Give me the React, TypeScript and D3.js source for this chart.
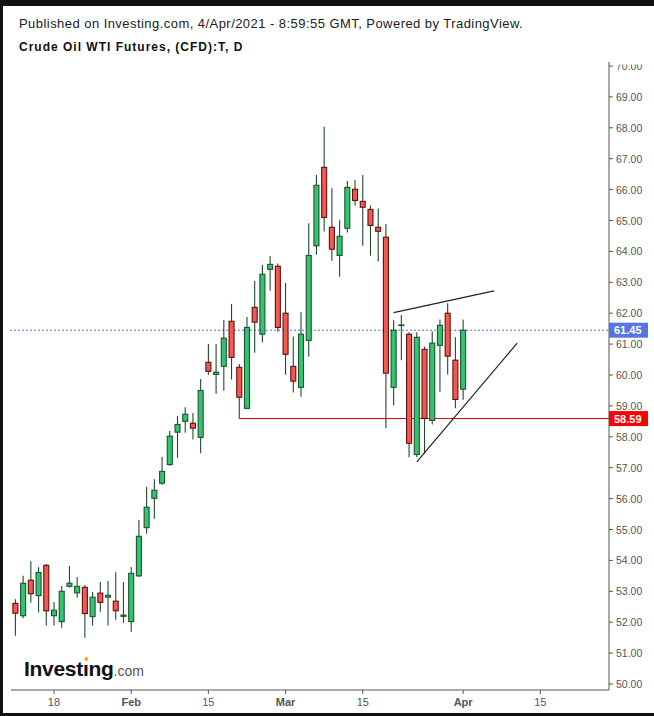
import React from "react";
import * as d3 from "d3";

// ---- data ----
const DATES = [
  "2021-01-11","2021-01-12","2021-01-13","2021-01-14","2021-01-15",
  "2021-01-18","2021-01-19","2021-01-20","2021-01-21","2021-01-22",
  "2021-01-25","2021-01-26","2021-01-27","2021-01-28","2021-01-29",
  "2021-02-01","2021-02-02","2021-02-03","2021-02-04","2021-02-05",
  "2021-02-08","2021-02-09","2021-02-10","2021-02-11","2021-02-12",
  "2021-02-15","2021-02-16","2021-02-17","2021-02-18","2021-02-19",
  "2021-02-22","2021-02-23","2021-02-24","2021-02-25","2021-02-26",
  "2021-03-01","2021-03-02","2021-03-03","2021-03-04","2021-03-05",
  "2021-03-08","2021-03-09","2021-03-10","2021-03-11","2021-03-12",
  "2021-03-15","2021-03-16","2021-03-17","2021-03-18","2021-03-19",
  "2021-03-22","2021-03-23","2021-03-24","2021-03-25","2021-03-26",
  "2021-03-29","2021-03-30","2021-03-31","2021-04-01",
];
const OPEN = [
  52.61,52.21,53.36,52.86,53.84, 52.21,52.02,53.16,52.95,53.13,
  52.18,52.94,52.81,52.68,52.19, 52.02,53.50,55.06,56.01,56.50,
  57.10,58.15,58.50,58.44,57.98, 60.41,60.02,60.28,61.74,60.25,
  58.92,62.19,61.32,63.42,63.52, 62.00,60.28,59.60,61.12,64.18,
  66.72,64.78,63.87,64.75,66.01, 65.62,65.36,64.78,64.46,59.60,
  61.60,61.32,57.43,60.83,58.53, 60.96,62.00,60.48,59.54,
];
const HIGH = [
  52.74,53.50,53.97,53.78,53.88, 52.65,53.17,53.82,53.46,53.20,
  52.98,53.30,53.33,53.62,53.30, 53.79,55.31,56.38,56.63,57.35,
  58.19,58.67,58.96,58.77,59.87, 61.00,61.00,61.78,62.30,60.36,
  61.88,63.04,63.56,63.85,63.61, 62.98,61.25,62.03,64.91,66.47,
  68.03,66.04,65.01,66.28,66.31, 66.47,65.49,65.39,64.89,61.77,
  61.94,61.38,61.38,60.92,61.41, 61.80,62.32,61.22,61.80,
];
const LOW = [
  51.56,52.13,52.63,52.31,51.89, 51.89,51.82,53.12,52.79,51.50,
  51.89,52.34,51.89,52.08,51.98, 51.69,53.46,54.86,55.35,56.45,
  57.06,57.32,58.13,57.91,57.47, 60.01,59.39,59.49,59.85,58.59,
  58.89,60.72,61.05,62.73,61.40, 60.01,59.43,59.30,60.59,63.89,
  64.64,63.70,63.18,64.61,65.48, 64.18,63.86,63.67,58.28,59.01,
  60.48,57.34,57.34,57.47,58.40, 59.46,60.02,58.92,59.20,
];
const CLOSE = [
  52.29,53.26,52.92,53.61,52.37, 52.39,53.00,53.26,53.16,52.28,
  52.81,52.64,52.87,52.37,52.23, 53.58,54.78,55.72,56.27,56.88,
  58.02,58.40,58.73,58.28,59.50, 60.12,60.09,61.19,60.57,59.28,
  61.54,61.71,63.26,63.58,61.54, 60.67,59.80,61.32,63.87,66.14,
  65.10,64.07,64.49,66.07,65.65, 65.43,64.84,64.65,60.06,61.45,
  61.62,57.79,61.22,58.60,61.03, 61.61,60.61,59.21,61.45,
];

const Y_TICKS = [50,51,52,53,54,55,56,57,58,59,60,61,62,63,64,65,66,67,68,69,70];
const X_TICK_DATES = ["2021-01-18","2021-02-01","2021-02-15","2021-03-01","2021-03-15","2021-04-01","2021-04-15"];
const X_TICK_LABELS = ["18","Feb","15","Mar","15","Apr","15"];
const X_TICK_MONTH = [false,true,false,true,false,true,false];

const LAST_PRICE = 61.45;
const SUPPORT_PRICE = 58.59;
const SUPPORT_FROM = "2021-02-19";
// trend lines: [bar index (fractional), price]
const UPPER_LINE: [number, number][] = [[49, 62.02], [62, 62.72]];
const LOWER_LINE: [number, number][] = [[52, 57.19], [65, 61.03]];

// ---- helpers ----
const parse = d3.timeParse("%Y-%m-%d");
const START = parse(DATES[0]) as Date;
function barIndex(s: string): number {
  const d = parse(s) as Date;
  const days = d3.timeDay.count(START, d);
  const weeks = Math.floor(days / 7);
  const rem = days % 7;
  return weeks * 5 + Math.min(rem, 5);
}

const W = 654, H = 716;
const PLOT_L = 10, PLOT_R = 609, PLOT_T = 62, PLOT_B = 690;

export default function App() {
  const x = d3.scaleLinear().domain([-0.7, 76.9]).range([PLOT_L, PLOT_R]);
  const y = d3.scaleLinear().domain([50, 70]).range([684, 66]);
  const font = "'Liberation Sans', Arial, sans-serif";

  const candles = DATES.map((d, i) => ({
    i: barIndex(d), o: OPEN[i], h: HIGH[i], l: LOW[i], c: CLOSE[i],
  }));
  const line = d3.line<[number, number]>().x(p => x(p[0])).y(p => y(p[1]));

  const bw = 5;
  return (
    <svg width={W} height={H} style={{ position: "absolute", left: 0, top: 0 }} fontFamily={font}>
      <defs>
        <clipPath id="plotclip">
          <rect x={PLOT_L} y={PLOT_T} width={PLOT_R - PLOT_L} height={PLOT_B - PLOT_T} />
        </clipPath>
        <clipPath id="axisclip">
          <rect x={PLOT_R} y={64.5} width={W - PLOT_R} height={PLOT_B - 64.5 + 2} />
        </clipPath>
      </defs>
      <rect x={0} y={0} width={W} height={H} fill="#111" />
      <rect x={3} y={6} width={W - 3} height={707} fill="#fff" />

      <text x={19} y={28} fontSize={13} fill="#222" letterSpacing={0.45}>
        Published on Investing.com, 4/Apr/2021 - 8:59:55 GMT, Powered by TradingView.
      </text>
      <text x={19} y={51} fontSize={12} fontWeight="bold" fill="#111" letterSpacing={1.0}>
        Crude Oil WTI Futures, (CFD):T, D
      </text>

      {/* logo */}
      <g>
        <text x={24} y={676} fontSize={21} fontWeight="bold" fill="#111" letterSpacing={-0.3}>
          Invest{"\u0131"}ng<tspan fontSize={14} fontWeight="normal" fill="#555" letterSpacing={0}>.com</tspan>
        </text>
        <circle cx={86.3} cy={659} r={2} fill="#f7a21b" />
      </g>

      <g clipPath="url(#plotclip)">
        {/* last price dotted line */}
        <line x1={PLOT_L} x2={PLOT_R} y1={y(LAST_PRICE)} y2={y(LAST_PRICE)} stroke="#4e6ee0" strokeWidth={1} strokeDasharray="2,2" />
        {/* support line */}
        <line x1={x(barIndex(SUPPORT_FROM))} x2={PLOT_R} y1={y(SUPPORT_PRICE)} y2={y(SUPPORT_PRICE)} stroke="#d80000" strokeWidth={1} />

        {candles.map((k, j) => {
          const up = k.c >= k.o;
          const cx = x(k.i);
          const top = y(Math.max(k.o, k.c));
          const bot = y(Math.min(k.o, k.c));
          return (
            <g key={j}>
              <line x1={cx} x2={cx} y1={y(k.h)} y2={y(k.l)} stroke="#1f4a2c" strokeWidth={1.1} />
              <rect x={cx - bw / 2} y={top} width={bw} height={Math.max(bot - top, 0.6)}
                fill={up ? "#33c46f" : "#f2594f"} stroke={up ? "#1f5230" : "#5e1212"} strokeWidth={1.1} />
            </g>
          );
        })}

        <path d={line(UPPER_LINE) || ""} stroke="#222" strokeWidth={1.2} fill="none" />
        <path d={line(LOWER_LINE) || ""} stroke="#222" strokeWidth={1.2} fill="none" />
      </g>

      {/* x axis */}
      <line x1={11} x2={PLOT_R} y1={PLOT_B} y2={PLOT_B} stroke="#555" strokeWidth={1} />
      {X_TICK_DATES.map((d, j) => {
        const tx = x(barIndex(d));
        return (
          <g key={d}>
            <line x1={tx} x2={tx} y1={PLOT_B} y2={PLOT_B + 4} stroke="#555" />
            <text x={tx} y={706} fontSize={11} textAnchor="middle" fill="#555"
              fontWeight={X_TICK_MONTH[j] ? "bold" : "normal"}>{X_TICK_LABELS[j]}</text>
          </g>
        );
      })}

      {/* y axis */}
      <line x1={PLOT_R} x2={PLOT_R} y1={PLOT_T} y2={PLOT_B} stroke="#555" strokeWidth={1} />
      <g clipPath="url(#axisclip)">
        {Y_TICKS.map(v => (
          <g key={v}>
            <line x1={PLOT_R} x2={PLOT_R + 4} y1={y(v)} y2={y(v)} stroke="#555" />
            <text x={616} y={y(v) + 4} fontSize={10.5} fill="#555">{v.toFixed(2)}</text>
          </g>
        ))}
      </g>

      {/* price labels */}
      <rect x={PLOT_R} y={y(LAST_PRICE) - 7.5} width={39} height={15} fill="#5873e3" />
      <text x={614} y={y(LAST_PRICE) + 4} fontSize={11} fontWeight="bold" fill="#fff">{LAST_PRICE.toFixed(2)}</text>
      <rect x={PLOT_R} y={y(SUPPORT_PRICE) - 7.5} width={39} height={15} fill="#ff0000" />
      <text x={614} y={y(SUPPORT_PRICE) + 4} fontSize={11} fontWeight="bold" fill="#fff">{SUPPORT_PRICE.toFixed(2)}</text>
    </svg>
  );
}
